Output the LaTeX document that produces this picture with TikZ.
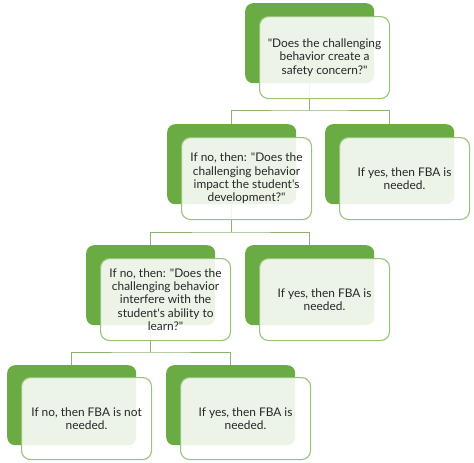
\documentclass[tikz,border=0pt]{standalone}
\usepackage{fontspec}
\setmainfont{Lato}[Ligatures=TeXOff]
\definecolor{gback}{HTML}{6AAB44}
\definecolor{gline}{HTML}{98C47A}
\definecolor{gconn}{HTML}{8DB46E}
\tikzset{
  backbox/.style={fill=gback, rounded corners=8pt, minimum width=129pt, minimum height=80pt, inner sep=0pt, anchor=north west},
  frontbox/.style={draw=gline, line width=1.1pt, fill=white, fill opacity=0.88, text opacity=1, rounded corners=9pt, minimum width=130pt, minimum height=82pt, inner sep=1pt, align=center, anchor=north west, font=\fontsize{11.9}{13.3}\selectfont, text=black!85},
  conn/.style={draw=gconn, line width=0.9pt}
}
\begin{document}
\begin{tikzpicture}[x=1pt,y=-1pt]
\useasboundingbox (0,0) rectangle (474,463);
% back boxes
\node[backbox] (g1) at (245,3) {};
\node[backbox] (g2l) at (167,124) {};
\node[backbox] (g2r) at (325,124) {};
\node[backbox] (g3l) at (86,245) {};
\node[backbox] (g3r) at (245,245) {};
\node[backbox] (g4l) at (7,365) {};
\node[backbox] (g4r) at (166,365) {};
% connectors
\coordinate (b1) at (g1.south |- 0,110);
\coordinate (b2) at (g2l.south |- 0,232);
\coordinate (b3) at (g3l.south |- 0,352);
\draw[conn] (g1.south) -- (b1);
\draw[conn] (g2l.north) |- (b1) -| (g2r.north);
\draw[conn] (g2l.south) -- (b2);
\draw[conn] (g3l.north) |- (b2) -| (g3r.north);
\draw[conn] (g3l.south) -- (b3);
\draw[conn] (g4l.north) |- (b3) -| (g4r.north);
% front boxes
\node[frontbox] (f1) at (259,16) {"Does the challenging\\behavior create a\\safety concern?"};
\node[frontbox] (f2l) at (181,137) {If no, then: "Does the\\challenging behavior\\impact the student's\\development?"};
\node[frontbox] (f2r) at (339,137) {If yes, then FBA is\\needed.};
\node[frontbox] (f3l) at (100,258) {If no, then: "Does the\\challenging behavior\\interfere with the\\student's ability to\\learn?"};
\node[frontbox] (f3r) at (259,258) {If yes, then FBA is\\needed.};
\node[frontbox] (f4l) at (21,377) {If no, then FBA is not\\needed.};
\node[frontbox] (f4r) at (180,377) {If yes, then FBA is\\needed.};
\end{tikzpicture}
\end{document}
